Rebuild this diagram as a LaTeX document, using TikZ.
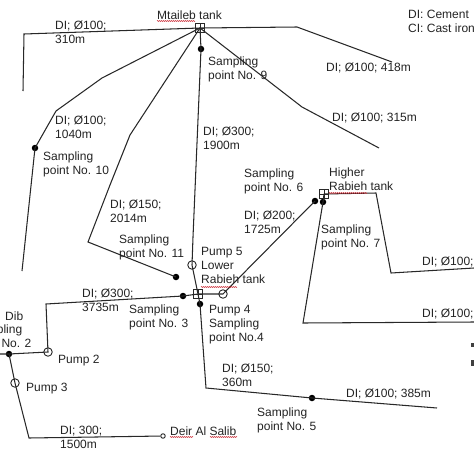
\documentclass[tikz,border=0pt]{standalone}
\usepackage{fontspec}
\setmainfont{Liberation Sans}
\usetikzlibrary{decorations.pathmorphing}
\definecolor{pipecol}{RGB}{40,40,40}
\definecolor{labelcol}{RGB}{35,35,35}
\definecolor{spellcol}{RGB}{205,50,60}

\begin{document}
\begin{tikzpicture}[
  x=1pt,y=-1pt,
  font=\fontsize{12}{14}\selectfont,
  lbl/.style={anchor=west,align=left,inner sep=0pt,text=labelcol},
  pipe/.style={draw=pipecol,line width=1.05pt},
  sample/.style={circle,fill=black,inner sep=0pt,minimum size=6.5pt},
  pump/.style={circle,draw=pipecol,line width=0.9pt,inner sep=0pt,minimum size=8.5pt},
  endpt/.style={circle,draw=pipecol,line width=0.9pt,inner sep=0pt,minimum size=4.5pt},
  tank/.style={rectangle,draw=pipecol,line width=0.8pt,inner sep=0pt,minimum size=9pt,
    path picture={\draw[pipecol,line width=0.6pt]
      (path picture bounding box.north) -- (path picture bounding box.south)
      (path picture bounding box.west) -- (path picture bounding box.east);}},
  spell/.style={draw=spellcol,line width=0.5pt,decorate,
    decoration={zigzag,segment length=2pt,amplitude=0.6pt}}]
\useasboundingbox (0,0) rectangle (474,474);
\clip (0,0) rectangle (474,474);
% tanks
\node[tank] (mtaileb) at (200,28) {};
\node[tank] (higher) at (324,194) {};
\node[tank] (lower) at (198,294) {};
% sampling points
\node[sample] (sp2) at (9,354) {};
\node[sample] (sp3) at (183,296) {};
\node[sample] (sp4) at (200,304) {};
\node[sample] (sp5) at (312,398) {};
\node[sample] (sp6) at (315,201) {};
\node[sample] (sp7) at (323,202) {};
\node[sample] (sp9) at (201,49) {};
\node[sample] (sp10) at (35,148) {};
\node[sample] (sp11) at (176,277) {};
% pumps
\node[pump] (pump2) at (48,352) {};
\node[pump] (pump3) at (15,383) {};
\node[pump] (pump4) at (223,294) {};
\node[pump] (pump5) at (192,265) {};
\node[endpt] (deir) at (163,436) {};
% bends and free ends
\coordinate (a1) at (24,34);
\coordinate (a2) at (23,91);
\coordinate (b1) at (102,78);
\coordinate (b2) at (56,111);
\coordinate (b3) at (22,271);
\coordinate (c1) at (130,135);
\coordinate (c2) at (110,185);
\coordinate (c3) at (88,242);
\coordinate (d1) at (297,27);
\coordinate (d2) at (392,62);
\coordinate (e1) at (302,107);
\coordinate (e2) at (379,148);
\coordinate (f1) at (193,237);
\coordinate (g1) at (206,388);
\coordinate (g2) at (437,408);
\coordinate (h1) at (303,323);
\coordinate (h2) at (474,322);
\coordinate (i1) at (376,193);
\coordinate (i2) at (391,273);
\coordinate (i3) at (474,268);
\coordinate (j1) at (46,304);
\coordinate (k0) at (0,354);
\coordinate (k1) at (29,438);
% pipes
\draw[pipe] (mtaileb.center) -- (a1) -- (a2);
\draw[pipe] (mtaileb.center) -- (b1) -- (b2) -- (sp10.center) -- (b3);
\draw[pipe] (mtaileb.center) -- (c1) -- (c2) -- (c3) -- (sp11.center);
\draw[pipe] (mtaileb.center) -- (d1) -- (d2);
\draw[pipe] (mtaileb.center) -- (e1) -- (e2);
\draw[pipe] (mtaileb.center) -- (sp9.center) -- (f1) -- (pump5.center) -- (lower.center) -- (sp4.center) -- (g1) -- (sp5.center) -- (g2);
\draw[pipe] (lower.center) -- (pump4.center) -- (sp6.center);
\draw[pipe] (higher.center) -- (sp7.center) -- (h1) -- (h2);
\draw[pipe] (higher.center) -- (i1) -- (i2) -- (i3);
\draw[pipe] (lower.center) -- (sp3.center) -- (j1) -- (pump2.center) -- (sp2.center) -- (k0);
\draw[pipe] (sp2.center) -- (pump3.center) -- (k1) -- (deir);
% labels
\node[lbl] (mtaileblbl) at (157,15) {Mtaileb tank};
\node[lbl] (l310) at (55,32.5) {DI; Ø100;\\310m};
\node[lbl] (sp9lbl) at (208,69) {Sampling\\point No. 9};
\node[lbl] (l418) at (326,68) {DI; Ø100; 418m};
\node[lbl] (l315) at (332,118) {DI; Ø100; 315m};
\node[lbl] (legend) at (408,21.5) {DI: Cement\\CI: Cast iron};
\node[lbl] (l1040) at (55,127) {DI; Ø100;\\1040m};
\node[lbl] (sp10lbl) at (43,164) {Sampling\\point No. 10};
\node[lbl] (l1900) at (203,138) {DI; Ø300;\\1900m};
\node[lbl] (l2014) at (110,211) {DI; Ø150;\\2014m};
\node[lbl] (sp6lbl) at (244,181.5) {Sampling\\point No. 6};
\node[lbl] (higherlbl) at (329,179.5) {Higher\\Rabieh tank};
\node[lbl] (l1725) at (244,222.5) {DI; Ø200;\\1725m};
\node[lbl] (sp7lbl) at (321,237) {Sampling\\point No. 7};
\node[lbl] (sp11lbl) at (119,247.5) {Sampling\\point No. 11};
\node[lbl] (lowerlbl) at (201,265.5) {Pump 5\\Lower\\Rabieh tank};
\node[lbl] (r1) at (422,262) {DI; Ø100;};
\node[lbl] (r2) at (422,314) {DI; Ø100;};
\node[lbl] (l3735) at (82,300) {DI; Ø300;\\3735m};
\node[lbl] (sp3lbl) at (129,317.5) {Sampling\\point No. 3};
\node[lbl] (sp4lbl) at (209,324.5) {Pump 4\\Sampling\\point No.4};
\node[lbl] (l360) at (222,375.5) {DI; Ø150;\\360m};
\node[lbl] (l385) at (346,394) {DI; Ø100; 385m};
\node[lbl] (sp5lbl) at (257,420.5) {Sampling\\point No. 5};
\node[lbl] (diblbl) at (5,316) {Dib};
\node[lbl] (sp2lbl) at (-28,337.5) {Sampling\\point No. 2};
\node[lbl] (pump2lbl) at (58,361) {Pump 2};
\node[lbl] (pump3lbl) at (26,389) {Pump 3};
\node[lbl] (l1500) at (60,437.5) {DI; 300;\\1500m};
\node[lbl] (deirlbl) at (170,431) {Deir Al Salib};
% spell marks
\coordinate (s1) at (157,21);
\coordinate (s2) at (195,21);
\coordinate (s3) at (329,193);
\coordinate (s4) at (367,193);
\coordinate (s5) at (201,287);
\coordinate (s6) at (237,287);
\coordinate (s7) at (170,437);
\coordinate (s8) at (193,437);
\coordinate (s9) at (210,437);
\coordinate (s10) at (237,437);
\draw[spell] (s1) -- (s2);
\draw[spell] (s3) -- (s4);
\draw[spell] (s5) -- (s6);
\draw[spell] (s7) -- (s8);
\draw[spell] (s9) -- (s10);
% cut off marks at the right edge
\fill[black!75] (471,343) rectangle (474,347);
\fill[black!75] (471,360) rectangle (474,366);
\end{tikzpicture}
\end{document}
